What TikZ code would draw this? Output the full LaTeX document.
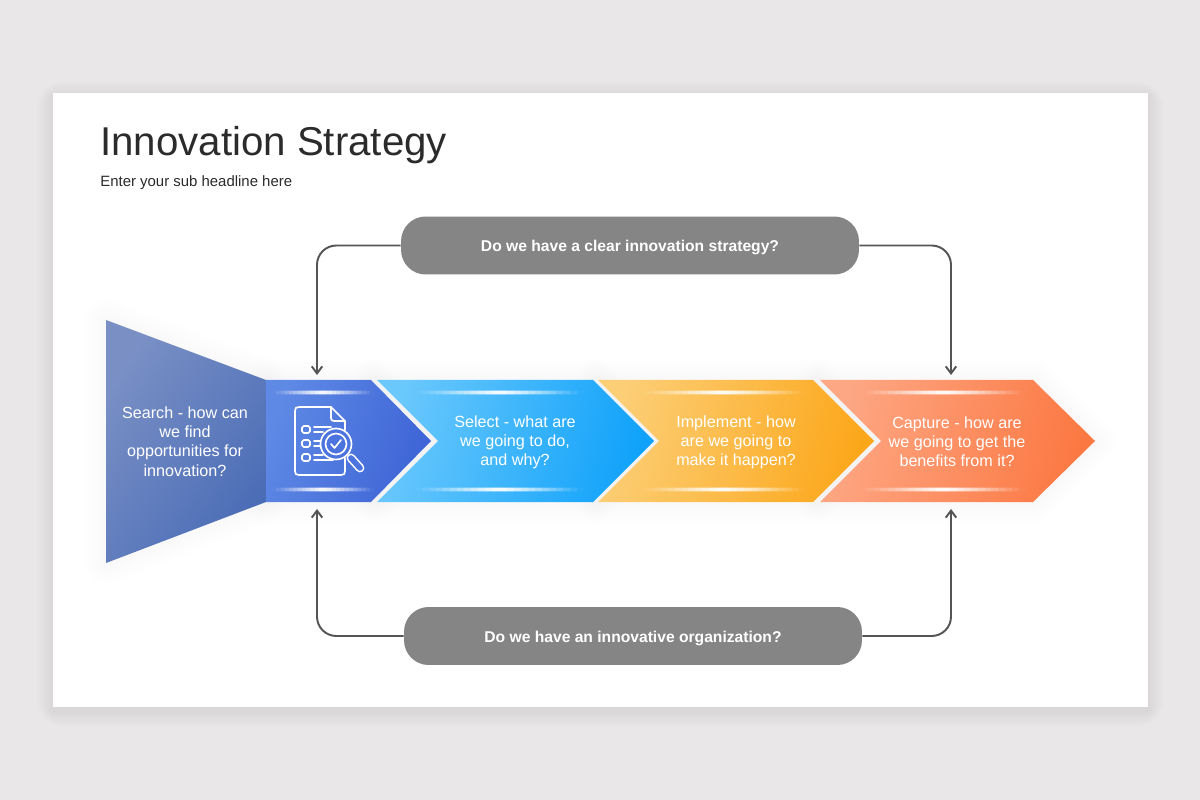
\documentclass[tikz,border=0pt]{standalone}
\usepackage{fontspec}
\setmainfont{Liberation Sans}
\usetikzlibrary{positioning}
\usetikzlibrary{arrows.meta}
\definecolor{pagebg}{HTML}{E9E7E8}
\definecolor{pillgray}{HTML}{858585}
\definecolor{linegray}{HTML}{555555}
\definecolor{titleink}{HTML}{2B2B2B}
\definecolor{lensblue}{HTML}{4C74DE}
\tikzset{
    ask/.style = {rectangle,fill=pillgray,rounded corners=14pt,minimum width=9.16cm,minimum height=1.16cm,text=white,font=\fontsize{8.9pt}{12pt}\selectfont\bfseries,inner sep=0pt,text height=7pt,text depth=0pt},
    steptext/.style = {align=center,text=white,font=\fontsize{9.2pt}{10.9pt}\selectfont,inner sep=0pt},
    edgen/.style = {-{Straight Barb[length=4pt,width=6pt]},line width=1.1pt,draw=linegray,rounded corners=11pt},
    icon/.style = {draw=white,line width=0.95pt,line join=round,line cap=round},
}
\def\pfunnel{(106,320) -- (266,380) -- (266,502) -- (106,563) -- cycle}
\def\pblue{(266,380) -- (371,380) -- (431,441) -- (371,502) -- (266,502) -- cycle}
\def\pcyan{(377,380) -- (593,380) -- (654,441) -- (593,502) -- (377,502) -- (438,441) -- cycle}
\def\pyellow{(598,380) -- (813,380) -- (874,441) -- (813,502) -- (598,502) -- (659,441) -- cycle}
\def\porange{(820,380) -- (1033,380) -- (1095,441) -- (1033,502) -- (820,502) -- (881,441) -- cycle}
\begin{document}
\begin{tikzpicture}[x=0.02cm,y=-0.02cm]
\fill[pagebg] (0,0) rectangle (1200,800);
\useasboundingbox (0,0) rectangle (1200,800);
% panel
\foreach \g in {2,4,...,16} {
    \fill[black,opacity=0.006,rounded corners=\g pt] (53-\g,93+4-\g) rectangle (1148+\g,707+4+\g);
}
\fill[white] (53,93) rectangle (1148,707);
%
\node[anchor=base west,inner sep=0pt,text=titleink,font=\fontsize{22.9pt}{26pt}\selectfont] (title) at (100,156) {Innovation Strategy};
\node[anchor=base west,inner sep=0pt,text=titleink,font=\fontsize{8.5pt}{10pt}\selectfont] (sub) at (100,187) {Enter your sub headline here};
%
\foreach \p in {\pfunnel,\pblue,\pcyan,\pyellow,\porange} {
    \foreach \w in {4,8,...,24} {
        \draw[black,opacity=0.003,line width=\w pt,line join=round] \p;
    }
}
\shade[left color={rgb,255:red,122;green,144;blue,197},right color={rgb,255:red,74;green,108;blue,182},shading angle=55] \pfunnel;
\shade[left color={rgb,255:red,94;green,137;blue,229},right color={rgb,255:red,62;green,100;blue,214},shading angle=70] \pblue;
\shade[left color={rgb,255:red,106;green,200;blue,252},right color={rgb,255:red,16;green,162;blue,250},shading angle=75] \pcyan;
\shade[left color={rgb,255:red,252;green,206;blue,118},right color={rgb,255:red,252;green,167;blue,26},shading angle=75] \pyellow;
\shade[left color={rgb,255:red,253;green,167;blue,132},right color={rgb,255:red,252;green,120;blue,66},shading angle=75] \porange;
%
\foreach \a/\b in {272/374,415/584,640/806,860/1026} {
    \foreach \i in {0,...,23} {
        \pgfmathsetmacro{\xa}{\a+(\b-\a)*\i/24}
        \pgfmathsetmacro{\xb}{\a+(\b-\a)*(\i+1)/24}
        \pgfmathsetmacro{\op}{0.95*(1-abs(\i-11.5)/12)^1.2}
        \pgfmathsetmacro{\ophalo}{0.4*\op}
        \fill[white,opacity=\ophalo] (\xa,390.5) rectangle (\xb,395.5);
        \fill[white,opacity=\ophalo] (\xa,486.5) rectangle (\xb,491.5);
        \fill[white,opacity=\op] (\xa,391.5) rectangle (\xb,394.5);
        \fill[white,opacity=\op] (\xa,487.5) rectangle (\xb,490.5);
    }
}
%
\node[steptext] (search) at (185,441.5) {Search - how can\\we find\\opportunities for\\innovation?};
\node[steptext] (select) at (515,442) {Select - what are\\we going to do,\\and why?};
\node[steptext] (impl) at (736,442) {Implement - how\\are we going to\\make it happen?};
\node[steptext] (capture) at (957,442) {Capture - how are\\we going to get the\\benefits from it?};
%
\node[ask] (asktop) at (630,245.5) {Do we have a clear innovation strategy?};
\node[ask] (askbot) at (633,636) {Do we have an innovative organization?};
\coordinate (topl) at (317,375);
\coordinate (topr) at (951,375);
\coordinate (botl) at (317,509);
\coordinate (botr) at (951,509);
\draw[edgen] (asktop.west) -| (topl);
\draw[edgen] (asktop.east) -| (topr);
\draw[edgen] (askbot.west) -| (botl);
\draw[edgen] (askbot.east) -| (botr);
%
% document icon
\draw[icon] (345,430) -- (345,421) -- (331,407) -- (299,407) .. controls (296,407) and (295,408) .. (295,411) -- (295,471) .. controls (295,474) and (296,475) .. (299,475) -- (341,475) .. controls (344,475) and (345,474) .. (345,471) -- (345,458);
\draw[icon] (331,407) -- (331,418) .. controls (331,420) and (332,421) .. (334,421) -- (345,421);
\foreach \y in {426,440,454} {
    \draw[icon,rounded corners=1pt] (302,\y) rectangle (310,\y+7);
}
\draw[icon] (314,427) -- (331,427);
\draw[icon] (314,432) -- (323,432);
\draw[icon] (314,441) -- (321,441);
\draw[icon] (314,446) -- (321,446);
\draw[icon] (314,455) -- (323,455);
\draw[icon] (314,460) -- (333,460);
\fill[lensblue] (336,444) circle (15.5);
\draw[icon] (336,444) circle (15.5);
\draw[icon] (336,444) circle (10.5);
\draw[icon] (331,444) -- (334.5,448) -- (341,440);
\draw[icon,line width=5pt] (351,458) -- (360,468);
\draw[lensblue,line width=3.2pt,line cap=round] (351,458) -- (360,468);
\end{tikzpicture}
\end{document}
